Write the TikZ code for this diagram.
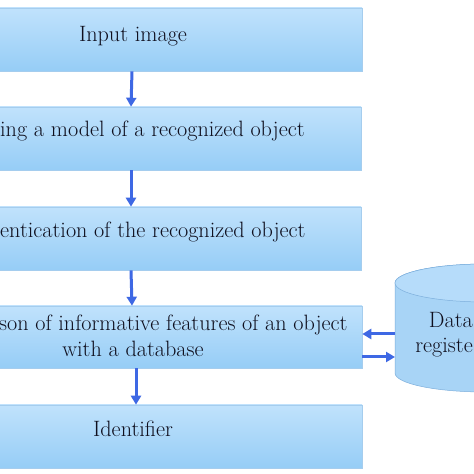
\documentclass[tikz,border=0pt]{standalone}
\usetikzlibrary{arrows.meta}
\definecolor{boxtop}{RGB}{192,226,252}
\definecolor{boxbot}{RGB}{150,205,246}
\definecolor{boxedge}{RGB}{165,205,238}
\definecolor{arrblue}{RGB}{62,104,228}
\definecolor{cylfill}{RGB}{168,212,246}
\definecolor{cyltop}{RGB}{182,220,250}
\definecolor{cyledge}{RGB}{125,175,220}
\definecolor{txt}{RGB}{15,15,30}
\tikzset{
  flowbox/.style={shade, top color=boxtop, bottom color=boxbot, draw=boxedge, line width=0.6pt,
    minimum width=460pt, inner sep=0pt},
  lbl/.style={inner sep=0pt, font=\fontsize{22.2}{26}\selectfont, text=txt},
  arr/.style={draw=arrblue, line width=3pt, -{Triangle[length=9pt,width=10pt]}}
}
\begin{document}
\begin{tikzpicture}[x=1pt,y=1pt]
\useasboundingbox (0,0) rectangle (474,474);
\clip (0,0) rectangle (474,474);
\fill[white] (0,0) rectangle (474,474);
% boxes
\node[flowbox, minimum height=63pt] (b1) at (132,434.5) {};
\node[flowbox, minimum height=63pt] (b2) at (131,335.5) {};
\node[flowbox, minimum height=63pt] (b3) at (131,235.5) {};
\node[flowbox, minimum height=62pt] (b4) at (132,137) {};
\node[flowbox, minimum height=63pt] (b5) at (132,37.5) {};
% labels
\node[lbl, anchor=base] (t1) at (133,432) {Input image};
\node[lbl, anchor=base west] (t2) at (0,337) {ing a model of a recognized object};
\node[lbl, anchor=base west] (t3) at (0,236) {entication of the recognized object};
\node[lbl, anchor=base west] (t4a) at (-1,143) {son of informative features of an object};
\node[lbl, anchor=base] (t4b) at (133,117) {with a database};
\node[lbl, anchor=base] (t5) at (133,37) {Identifier};
% database cylinder
\path[fill=cylfill, draw=cyledge, line width=0.5pt]
  (395,191) -- (395,101) arc[start angle=180, end angle=360, x radius=90, y radius=19]
  -- (575,191) arc[start angle=0, end angle=180, x radius=90, y radius=19] -- cycle;
\path[fill=cyltop, draw=cyledge, line width=0.5pt]
  (485,191) ellipse[x radius=90, y radius=19];
\coordinate (dbL1) at (395,140);
\coordinate (dbL2) at (395,117);
\node[lbl, anchor=base east] (d1) at (473,146) {Data};
\node[lbl, anchor=base east] (d2) at (473,121) {registe};
% arrows
\draw[arr] (b1.south) -- (b2.north);
\draw[arr] (b2.south) -- (b3.north);
\draw[arr] (b3.south) -- (b4.north);
\draw[arr] ([xshift=4pt]b4.south) -- ([xshift=4pt]b5.north);
\draw[arr] (dbL1) -- (dbL1 -| b4.east);
\draw[arr] (dbL2 -| b4.east) -- (dbL2);
\end{tikzpicture}
\end{document}
